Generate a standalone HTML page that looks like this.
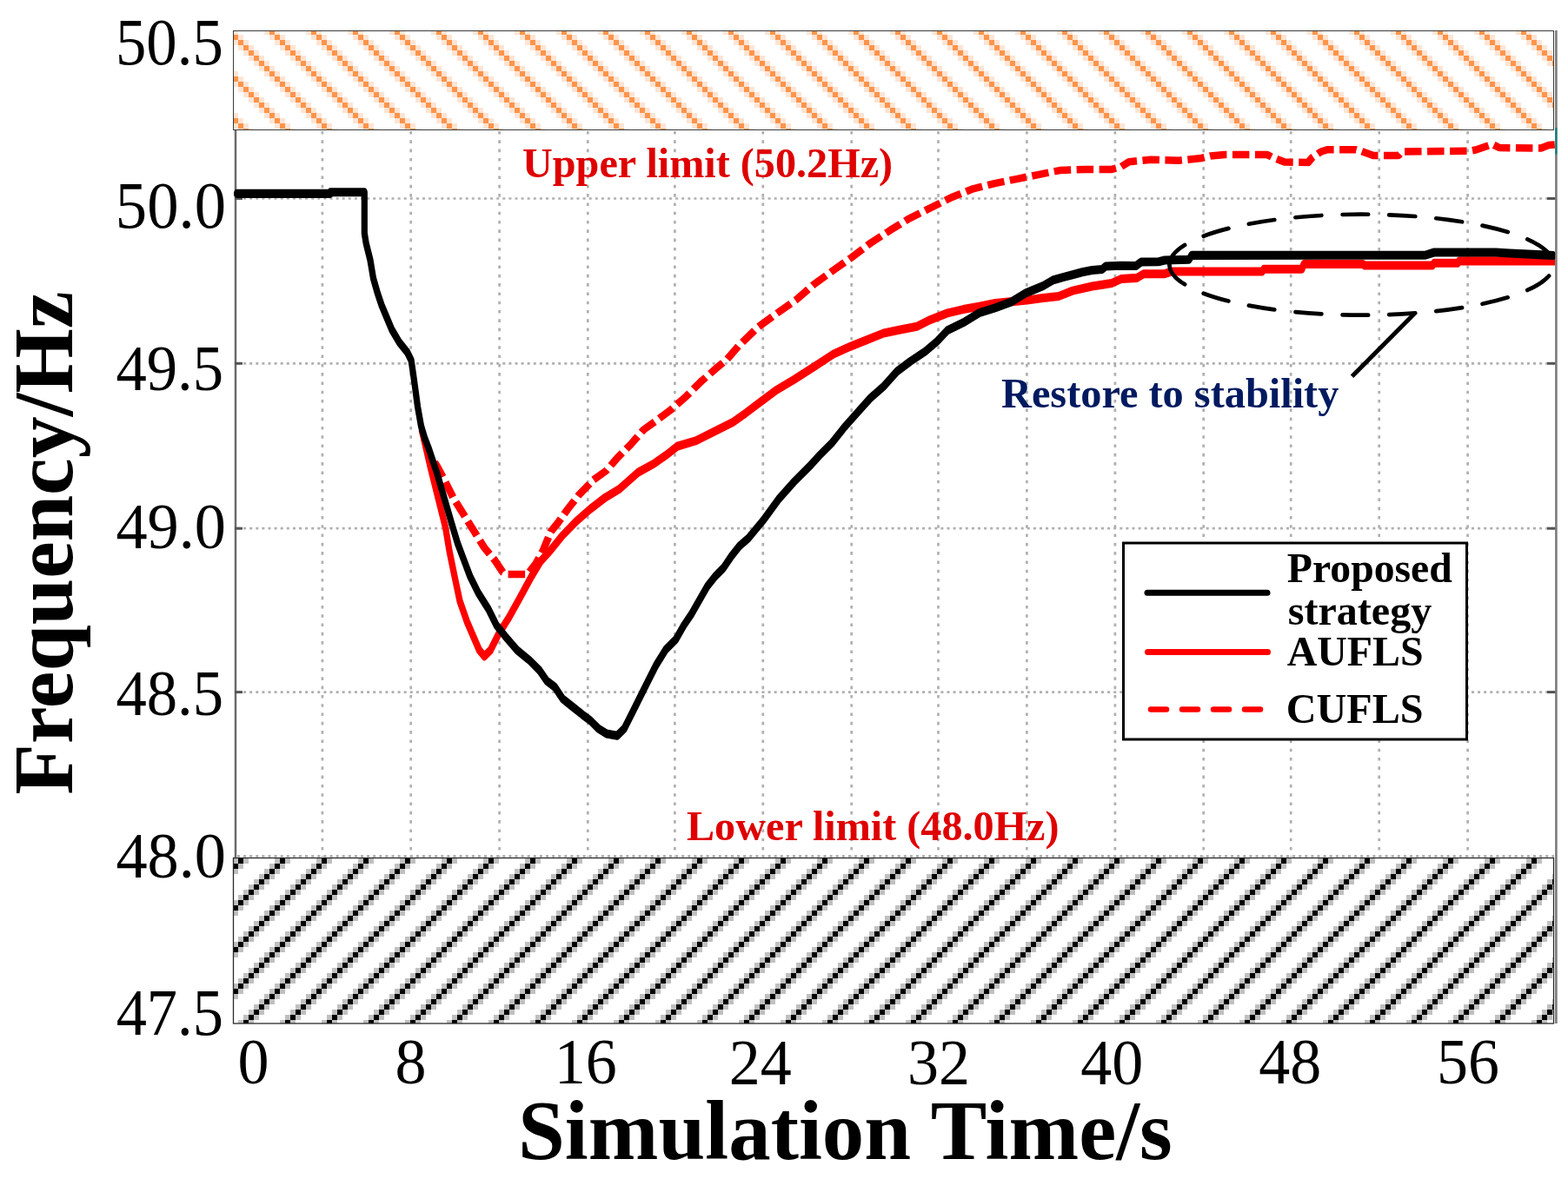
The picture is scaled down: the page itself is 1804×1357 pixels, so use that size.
<!DOCTYPE html>
<html><head><meta charset="utf-8"><title>Frequency response</title>
<style>
html,body{margin:0;padding:0;background:#fff;}
body{width:1804px;height:1357px;overflow:hidden;}
svg{display:block;}
</style></head><body>
<svg width="1804" height="1357" viewBox="0 0 1804 1357">
<defs>
<pattern id="po" patternUnits="userSpaceOnUse" x="268" y="34" width="48" height="48">
<rect x="42" y="0" width="6" height="6" fill="#ff944a"/><rect x="36" y="0" width="6" height="6" fill="#fee4d4"/><rect x="0" y="0" width="6" height="6" fill="#fee4d4"/><rect x="0" y="6" width="6" height="6" fill="#ff944a"/><rect x="42" y="6" width="6" height="6" fill="#fee4d4"/><rect x="6" y="6" width="6" height="6" fill="#fee4d4"/><rect x="6" y="12" width="6" height="6" fill="#ff944a"/><rect x="0" y="12" width="6" height="6" fill="#fee4d4"/><rect x="12" y="12" width="6" height="6" fill="#fee4d4"/><rect x="12" y="18" width="6" height="6" fill="#ff944a"/><rect x="6" y="18" width="6" height="6" fill="#fee4d4"/><rect x="18" y="18" width="6" height="6" fill="#fee4d4"/><rect x="18" y="24" width="6" height="6" fill="#ff944a"/><rect x="12" y="24" width="6" height="6" fill="#fee4d4"/><rect x="24" y="24" width="6" height="6" fill="#fee4d4"/><rect x="24" y="30" width="6" height="6" fill="#ff944a"/><rect x="18" y="30" width="6" height="6" fill="#fee4d4"/><rect x="30" y="30" width="6" height="6" fill="#fee4d4"/><rect x="30" y="36" width="6" height="6" fill="#ff944a"/><rect x="24" y="36" width="6" height="6" fill="#fee4d4"/><rect x="36" y="36" width="6" height="6" fill="#fee4d4"/><rect x="36" y="42" width="6" height="6" fill="#ff944a"/><rect x="30" y="42" width="6" height="6" fill="#fee4d4"/><rect x="42" y="42" width="6" height="6" fill="#fee4d4"/>
</pattern>
<pattern id="pb" patternUnits="userSpaceOnUse" x="268" y="988" width="48" height="48">
<rect x="6" y="0" width="6" height="6" fill="#000"/><rect x="0" y="0" width="6" height="6" fill="#c0c0c0"/><rect x="12" y="0" width="6" height="6" fill="#c0c0c0"/><rect x="0" y="6" width="6" height="6" fill="#000"/><rect x="42" y="6" width="6" height="6" fill="#c0c0c0"/><rect x="6" y="6" width="6" height="6" fill="#c0c0c0"/><rect x="42" y="12" width="6" height="6" fill="#000"/><rect x="36" y="12" width="6" height="6" fill="#c0c0c0"/><rect x="0" y="12" width="6" height="6" fill="#c0c0c0"/><rect x="36" y="18" width="6" height="6" fill="#000"/><rect x="30" y="18" width="6" height="6" fill="#c0c0c0"/><rect x="42" y="18" width="6" height="6" fill="#c0c0c0"/><rect x="30" y="24" width="6" height="6" fill="#000"/><rect x="24" y="24" width="6" height="6" fill="#c0c0c0"/><rect x="36" y="24" width="6" height="6" fill="#c0c0c0"/><rect x="24" y="30" width="6" height="6" fill="#000"/><rect x="18" y="30" width="6" height="6" fill="#c0c0c0"/><rect x="30" y="30" width="6" height="6" fill="#c0c0c0"/><rect x="18" y="36" width="6" height="6" fill="#000"/><rect x="12" y="36" width="6" height="6" fill="#c0c0c0"/><rect x="24" y="36" width="6" height="6" fill="#c0c0c0"/><rect x="12" y="42" width="6" height="6" fill="#000"/><rect x="6" y="42" width="6" height="6" fill="#c0c0c0"/><rect x="18" y="42" width="6" height="6" fill="#c0c0c0"/>
</pattern>
</defs>
<rect width="1804" height="1357" fill="#fff"/>
<g stroke="#b0b0b0" stroke-width="2.7">
<line x1="370.9" y1="151" x2="370.9" y2="986" stroke-dasharray="3.6 6.7" /><line x1="472.7" y1="151" x2="472.7" y2="986" stroke-dasharray="3.6 6.7" /><line x1="574.6" y1="151" x2="574.6" y2="986" stroke-dasharray="3.6 6.7" /><line x1="676.3" y1="151" x2="676.3" y2="986" stroke-dasharray="3.6 6.7" /><line x1="776.4" y1="151" x2="776.4" y2="986" stroke-dasharray="3.6 6.7" /><line x1="877.8" y1="151" x2="877.8" y2="986" stroke-dasharray="3.6 6.7" /><line x1="979.7" y1="151" x2="979.7" y2="986" stroke-dasharray="3.6 6.7" /><line x1="1079.5" y1="151" x2="1079.5" y2="986" stroke-dasharray="3.6 6.7" /><line x1="1181.4" y1="151" x2="1181.4" y2="986" stroke-dasharray="3.6 6.7" /><line x1="1282.9" y1="151" x2="1282.9" y2="986" stroke-dasharray="3.6 6.7" /><line x1="1384.7" y1="151" x2="1384.7" y2="986" stroke-dasharray="3.6 6.7" /><line x1="1485.2" y1="151" x2="1485.2" y2="986" stroke-dasharray="3.6 6.7" /><line x1="1586.7" y1="151" x2="1586.7" y2="986" stroke-dasharray="3.6 6.7" /><line x1="1688.6" y1="151" x2="1688.6" y2="986" stroke-dasharray="3.6 6.7" /><line x1="273" y1="228.5" x2="1788" y2="228.5" stroke-dasharray="3 4.1" /><line x1="273" y1="418.3" x2="1788" y2="418.3" stroke-dasharray="3 4.1" /><line x1="273" y1="608.2" x2="1788" y2="608.2" stroke-dasharray="3 4.1" /><line x1="273" y1="796.6" x2="1788" y2="796.6" stroke-dasharray="3 4.1" /><line x1="273" y1="985.4" x2="1788" y2="985.4" stroke-dasharray="3 4.1" />
</g>
<!-- hatched regions -->
<rect x="268.5" y="35.5" width="1519" height="114" fill="url(#po)" stroke="#3a3a3a" stroke-width="1"/>
<rect x="268.5" y="987.5" width="1519" height="190.5" fill="url(#pb)" stroke="#2a2a2a" stroke-width="1.3"/>
<!-- axes -->
<line x1="271" y1="150" x2="271" y2="987" stroke="#6a6a6a" stroke-width="2.5"/>
<g stroke="#555" stroke-width="3"><line x1="270" y1="228.5" x2="279" y2="228.5" /><line x1="1780" y1="228.5" x2="1790" y2="228.5" /><line x1="270" y1="418.3" x2="279" y2="418.3" /><line x1="1780" y1="418.3" x2="1790" y2="418.3" /><line x1="270" y1="608.2" x2="279" y2="608.2" /><line x1="1780" y1="608.2" x2="1790" y2="608.2" /><line x1="270" y1="796.6" x2="279" y2="796.6" /><line x1="1780" y1="796.6" x2="1790" y2="796.6" /></g>
<!-- texts A -->
<g transform="translate(-4.58,0.80) scale(1.0043,1.0000)"><text x="603" y="203.5" font-family="Liberation Serif, Times New Roman, serif" font-size="48" font-weight="bold" fill="#df0000" text-anchor="start">Upper limit (50.2Hz)</text></g>
<g transform="translate(-3.17,0.60) scale(1.0040,1.0000)"><text x="790" y="966" font-family="Liberation Serif, Times New Roman, serif" font-size="48" font-weight="bold" fill="#df0000" text-anchor="start">Lower limit (48.0Hz)</text></g>
<g transform="translate(-9.41,0.70) scale(1.0073,1.0000)"><text x="1153" y="468.6" font-family="Liberation Serif, Times New Roman, serif" font-size="48" font-weight="bold" fill="#001a60" text-anchor="start">Restore to stability</text></g>
<!-- curves -->
<g transform="scale(1,1.4)" fill="none" stroke-linejoin="round">
<polyline points="485.0,352.86 487.7,361.00 496.0,386.29 505.4,413.21 512.5,433.43 517.2,453.57 523.0,473.86 529.0,494.07 537.2,510.93 544.3,522.71 551.4,534.50 557.3,539.57 564.3,534.50 573.8,521.00 585.6,507.57 597.4,492.36 611.5,473.86 622.0,461.43 633.7,452.21 647.0,440.36 663.0,428.57 679.0,418.57 696.5,408.93 713.0,401.79 734.1,388.43 753.3,380.79 768.3,373.14 779.0,367.00 800.3,362.43 821.7,354.79 843.1,347.14 858.0,339.57 875.1,330.36 892.2,321.21 913.6,312.07 937.0,301.29 959.0,291.07 978.3,284.86 997.5,279.36 1016.6,273.93 1035.8,271.14 1055.0,268.43 1070.3,262.93 1090.0,257.43 1108.3,254.36 1126.6,251.93 1144.9,249.36 1181.5,246.71 1200.0,244.93 1218.0,243.57 1234.0,239.00 1256.5,235.29 1279.0,232.86 1290.0,229.29 1308.0,228.50 1316.0,225.14 1340.0,225.14 1348.0,223.21 1452.0,223.21 1454.0,221.29 1497.8,221.29 1500.0,217.14 1568.0,217.14 1570.0,218.21 1648.0,218.21 1650.0,216.29 1677.0,216.29 1679.0,214.57 1789.0,214.57" stroke="#ff0000" stroke-width="7.2"/>
</g>
<polyline points="500.0,532.0 503.0,537.0 510.1,550.2 521.9,573.8 533.7,592.6 545.5,611.5 557.3,630.4 569.0,644.5 578.5,658.7 583.2,661.0 606.8,661.0 616.2,649.2 624.6,634.0 633.7,612.0 642.1,601.5 652.8,586.5 665.7,570.0 682.8,552.3 697.7,541.6 710.5,526.7 725.5,511.7 740.5,494.6 755.4,483.9 772.5,471.1 789.6,456.1 806.7,439.0 823.8,424.1 836.7,413.4 849.5,398.4 871.5,377.0 891.9,362.0 915.9,345.1 936.3,327.4 958.4,311.4 979.7,296.4 1002.0,279.5 1024.7,264.7 1044.7,252.3 1069.6,239.8 1094.6,227.3 1119.5,217.3 1144.4,211.1 1169.4,206.1 1194.3,201.1 1219.3,196.1 1249.2,194.9 1279.1,194.9 1289.1,192.4 1299.1,186.2 1324.0,183.7 1356.3,184.7 1382.5,182.0 1393.0,179.4 1408.8,178.1 1458.0,178.1 1466.0,182.0 1478.0,186.5 1505.0,187.0 1510.0,181.0 1520.0,174.5 1527.0,172.3 1560.0,172.3 1566.0,174.0 1580.0,179.0 1609.0,179.0 1613.0,174.6 1691.0,173.8 1698.0,172.5 1717.0,166.0 1725.0,170.0 1773.0,170.5 1782.0,167.0 1789.0,166.5" fill="none" stroke="#ff0000" stroke-width="8.5" stroke-dasharray="19.5 6.5" stroke-linejoin="round"/>
<g transform="scale(1,1.4)" fill="none" stroke-linejoin="round">
<polyline points="272.5,159.21 380.0,159.21 380.0,158.00 419.3,158.00 419.3,191.71 421.2,200.14 425.9,213.57 429.5,228.79 434.2,240.57 438.9,250.71 444.8,260.79 450.7,270.86 459.0,281.00 468.4,289.43 473.1,296.14 475.5,307.93 477.8,319.71 480.5,334.29 484.5,350.36 488.5,360.00 493.4,369.00 503.0,389.64 511.3,409.86 519.5,430.07 526.6,446.93 533.7,460.36 540.8,473.86 550.2,487.36 562.0,500.79 571.4,514.29 580.8,522.71 595.0,534.50 609.2,542.86 621.0,551.36 629.1,559.86 638.3,564.79 647.4,574.57 658.8,581.07 670.3,587.64 679.4,592.50 688.5,599.07 697.7,603.14 710.2,604.79 718.2,599.07 727.4,586.00 736.5,572.93 745.6,559.86 754.8,546.86 766.2,533.79 777.6,525.64 786.7,514.21 795.9,504.43 805.0,493.00 814.2,481.57 823.3,473.43 832.4,466.86 841.6,457.14 850.7,448.93 861.0,442.50 879.4,426.57 896.5,409.79 913.6,396.07 930.7,383.86 943.0,374.29 957.0,364.29 970.7,351.93 986.0,339.57 1001.3,327.29 1016.6,317.71 1032.0,305.36 1047.3,297.14 1064.5,288.93 1078.0,280.71 1090.0,271.57 1108.3,265.21 1126.6,257.21 1144.9,253.07 1163.2,248.29 1180.0,240.93 1200.0,235.14 1212.0,230.14 1223.0,227.93 1234.0,225.93 1245.0,223.79 1256.5,222.21 1268.0,221.43 1272.0,218.93 1290.0,218.43 1307.0,218.57 1313.0,215.36 1333.0,215.21 1340.0,213.93 1368.0,213.43 1371.0,209.93 1640.0,209.79 1650.0,207.50 1721.0,207.50 1737.0,208.21 1787.0,210.00" stroke="#000" stroke-width="7.2" stroke-linecap="round"/>
</g>
<line x1="1790.4" y1="35" x2="1790.4" y2="1178" stroke="#7a7a7a" stroke-width="2.6"/>
<line x1="1790.4" y1="147" x2="1790.4" y2="177.5" stroke="#008080" stroke-width="2"/>
<!-- ellipse -->
<g fill="none" stroke="#000" stroke-width="4.7" stroke-linecap="round" stroke-dasharray="30 24">
<path d="M1345.5,304.7 A221,58 0 0 1 1787.5,304.7"/>
<path d="M1345.5,304.7 A221,58 0 0 0 1787.5,304.7"/>
</g>
<line x1="1555.5" y1="433.3" x2="1627.3" y2="361.1" stroke="#000" stroke-width="5"/>
<!-- legend -->
<rect x="1292.5" y="625" width="395" height="226" fill="#fff" stroke="#000" stroke-width="3"/>
<g stroke-linecap="round" fill="none">
<line x1="1320" y1="682.2" x2="1458" y2="682.2" stroke="#000" stroke-width="7"/>
<line x1="1320.5" y1="750.5" x2="1458.5" y2="750.5" stroke="#ff0000" stroke-width="7"/>
<line x1="1324" y1="816.5" x2="1452" y2="816.5" stroke="#ff0000" stroke-width="6.5" stroke-dasharray="18 18"/>
</g>
<g transform="translate(4.17,-2.32) scale(0.9832,1.0468)"><text x="257" y="73" font-family="Liberation Serif, Times New Roman, serif" font-size="72" font-weight="normal" fill="#000000" text-anchor="end">50.5</text></g>
<g transform="translate(0.65,-10.92) scale(1.0092,1.0468)"><text x="257" y="261" font-family="Liberation Serif, Times New Roman, serif" font-size="72" font-weight="normal" fill="#000000" text-anchor="end">50.0</text></g>
<g transform="translate(4.89,-17.11) scale(0.9811,1.0404)"><text x="257" y="448" font-family="Liberation Serif, Times New Roman, serif" font-size="72" font-weight="normal" fill="#000000" text-anchor="end">49.5</text></g>
<g transform="translate(1.75,-24.47) scale(1.0049,1.0404)"><text x="257" y="630" font-family="Liberation Serif, Times New Roman, serif" font-size="72" font-weight="normal" fill="#000000" text-anchor="end">49.0</text></g>
<g transform="translate(4.89,-30.28) scale(0.9811,1.0383)"><text x="257" y="822" font-family="Liberation Serif, Times New Roman, serif" font-size="72" font-weight="normal" fill="#000000" text-anchor="end">48.5</text></g>
<g transform="translate(1.75,-37.64) scale(1.0049,1.0383)"><text x="257" y="1009" font-family="Liberation Serif, Times New Roman, serif" font-size="72" font-weight="normal" fill="#000000" text-anchor="end">48.0</text></g>
<g transform="translate(5.52,-57.23) scale(0.9779,1.0489)"><text x="257" y="1190" font-family="Liberation Serif, Times New Roman, serif" font-size="72" font-weight="normal" fill="#000000" text-anchor="end">47.5</text></g>
<g transform="translate(-0.25,-49.17) scale(1.0000,1.0404)"><text x="291.7" y="1246" font-family="Liberation Serif, Times New Roman, serif" font-size="72" font-weight="normal" fill="#000000" text-anchor="middle">0</text></g>
<g transform="translate(0.25,-46.32) scale(1.0000,1.0383)"><text x="472.2" y="1246" font-family="Liberation Serif, Times New Roman, serif" font-size="72" font-weight="normal" fill="#000000" text-anchor="middle">8</text></g>
<g transform="translate(-1.90,-46.32) scale(1.0000,1.0383)"><text x="675.6" y="1246" font-family="Liberation Serif, Times New Roman, serif" font-size="72" font-weight="normal" fill="#000000" text-anchor="middle">16</text></g>
<g transform="translate(-0.65,-46.12) scale(1.0000,1.0383)"><text x="875.3" y="1246" font-family="Liberation Serif, Times New Roman, serif" font-size="72" font-weight="normal" fill="#000000" text-anchor="middle">24</text></g>
<g transform="translate(0.25,-46.12) scale(1.0000,1.0383)"><text x="1079.7" y="1246" font-family="Liberation Serif, Times New Roman, serif" font-size="72" font-weight="normal" fill="#000000" text-anchor="middle">32</text></g>
<g transform="translate(0.60,-46.12) scale(1.0000,1.0383)"><text x="1278.6" y="1246" font-family="Liberation Serif, Times New Roman, serif" font-size="72" font-weight="normal" fill="#000000" text-anchor="middle">40</text></g>
<g transform="translate(0.65,-35.71) scale(1.0000,1.0298)"><text x="1483.7" y="1246" font-family="Liberation Serif, Times New Roman, serif" font-size="72" font-weight="normal" fill="#000000" text-anchor="middle">48</text></g>
<g transform="translate(-0.95,-35.71) scale(1.0000,1.0298)"><text x="1690" y="1246" font-family="Liberation Serif, Times New Roman, serif" font-size="72" font-weight="normal" fill="#000000" text-anchor="middle">56</text></g>
<g transform="translate(-5.50,0.30) scale(1.0043,1.0000)"><text x="1480" y="669.6" font-family="Liberation Serif, Times New Roman, serif" font-size="47.5" font-weight="bold" fill="#000000" text-anchor="start">Proposed</text></g>
<g transform="translate(-16.48,1.50) scale(1.0123,1.0000)"><text x="1480" y="717.2" font-family="Liberation Serif, Times New Roman, serif" font-size="47.5" font-weight="bold" fill="#000000" text-anchor="start">strategy</text></g>
<g transform="translate(-10.83,0.80) scale(1.0078,1.0000)"><text x="1480" y="765.5" font-family="Liberation Serif, Times New Roman, serif" font-size="47.5" font-weight="bold" fill="#000000" text-anchor="start">AUFLS</text></g>
<g transform="translate(-20.68,1.30) scale(1.0138,1.0000)"><text x="1480" y="830.9" font-family="Liberation Serif, Times New Roman, serif" font-size="47.5" font-weight="bold" fill="#000000" text-anchor="start">CUFLS</text></g>
<g transform="translate(1.52,1.60) scale(0.9988,1.0000)"><text x="972" y="1332.6" font-family="Liberation Serif, Times New Roman, serif" font-size="97" font-weight="bold" fill="#000000" text-anchor="middle">Simulation Time/s</text></g>
<g transform="translate(0.00,6.60) scale(1.0000,0.9895)"><text transform="translate(83,625) rotate(-90)" font-family="Liberation Serif, Times New Roman, serif" font-size="97" font-weight="bold" fill="#000000" text-anchor="middle">Frequency/Hz</text></g>
</svg>
</body></html>
